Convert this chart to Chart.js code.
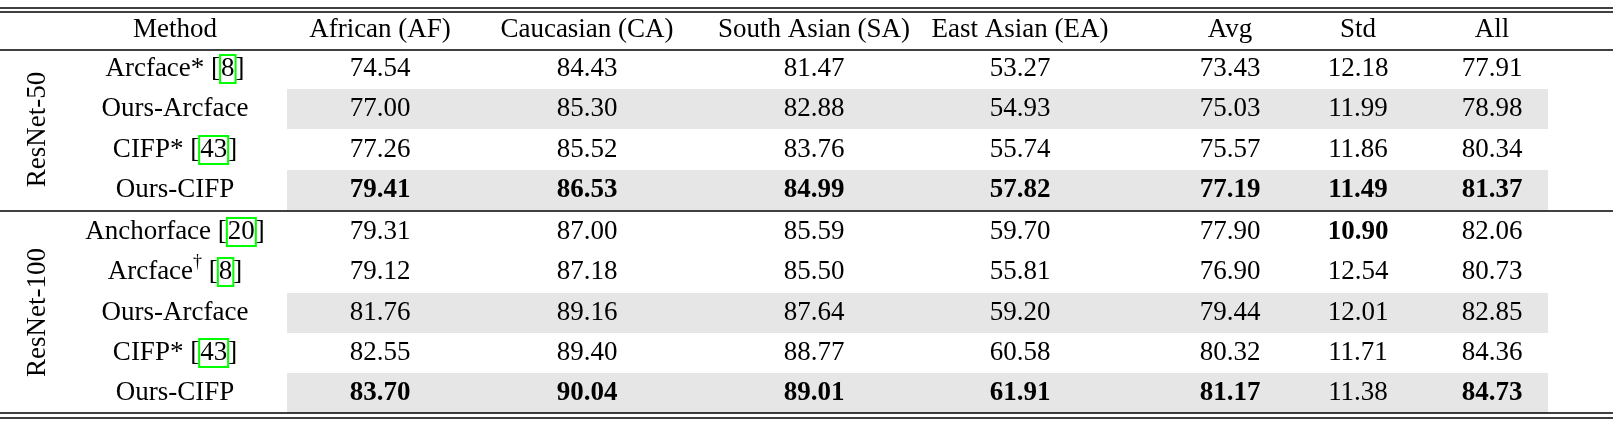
<!DOCTYPE html><html><head><meta charset="utf-8">
<script src="https://cdn.jsdelivr.net/npm/chart.js@4"></script>
<style>body{margin:0;background:#fff}</style></head><body>
<canvas id="c" width="1613" height="433"></canvas>
<script>
const columns=["Method","African (AF)","Caucasian (CA)","South Asian (SA)","East Asian (EA)","Avg","Std","All"];
const backbones=["ResNet-50","ResNet-100"];
const methods=[["Arcface* [",{b:"8"},"]"],["Ours-Arcface"],["CIFP* [",{b:"43"},"]"],["Ours-CIFP"],
 ["Anchorface [",{b:"20"},"]"],["Arcface",{sup:"†"}," [",{b:"8"},"]"],["Ours-Arcface"],["CIFP* [",{b:"43"},"]"],["Ours-CIFP"]];
const values=[
[74.54,84.43,81.47,53.27,73.43,12.18,77.91],
[77.00,85.30,82.88,54.93,75.03,11.99,78.98],
[77.26,85.52,83.76,55.74,75.57,11.86,80.34],
[79.41,86.53,84.99,57.82,77.19,11.49,81.37],
[79.31,87.00,85.59,59.70,77.90,10.90,82.06],
[79.12,87.18,85.50,55.81,76.90,12.54,80.73],
[81.76,89.16,87.64,59.20,79.44,12.01,82.85],
[82.55,89.40,88.77,60.58,80.32,11.71,84.36],
[83.70,90.04,89.01,61.91,81.17,11.38,84.73]];
const bold=[[],[],[],[0,1,2,3,4,5,6],[5],[],[],[],[0,1,2,3,4,6]];
const shaded=[1,3,6,8];
const colX=[175,380,587,814,1020,1230,1358,1492];
const rowY=[69,109,150,190,232,272,313,353,393];
const F='"Liberation Serif", "Times New Roman", serif';
const plugin={id:'tbl',afterDraw(ch){
 const c=ch.ctx,xs=ch.scales.x,ys=ch.scales.y,X=v=>xs.getPixelForValue(v),Y=v=>ys.getPixelForValue(v);
 c.save();
 c.fillStyle='#e6e6e6';
 shaded.forEach(r=>c.fillRect(X(287),Y(rowY[r]-20),X(1548)-X(287),40));
 c.strokeStyle='#000';c.lineWidth=1.3;
 [8,12,50,211,413,418].forEach(y=>{c.beginPath();c.moveTo(X(0),Y(y));c.lineTo(X(1613),Y(y));c.stroke();});
 c.fillStyle='#000';c.textBaseline='middle';
 const nf='27px '+F,bf='bold 27px '+F;
 c.textAlign='center';c.font=nf;
 columns.forEach((t,i)=>c.fillText(t,X(colX[i]),Y(30)));
 methods.forEach((segs,r)=>{
  c.textAlign='left';
  const w=segs.map(s=>{if(typeof s==='string'){c.font=nf;return c.measureText(s).width}
   if(s.sup){c.font='18px '+F;return c.measureText(s.sup).width}c.font=nf;return c.measureText(s.b).width+2});
  let x=X(colX[0])-w.reduce((a,b)=>a+b,0)/2;const y=Y(rowY[r]);
  segs.forEach((s,i)=>{
   if(typeof s==='string'){c.font=nf;c.fillText(s,x,y)}
   else if(s.sup){c.font='18px '+F;c.fillText(s.sup,x,y-10)}
   else{c.font=nf;c.fillText(s.b,x+1,y);c.strokeStyle='#00ff00';c.lineWidth=2;c.strokeRect(x,y-14,w[i],28)}
   x+=w[i];});
  c.textAlign='center';
  values[r].forEach((v,j)=>{c.font=bold[r].includes(j)?bf:nf;c.fillText(v.toFixed(2),X(colX[j+1]),y)});
 });
 c.font=nf;
 [[38,(rowY[0]+rowY[3])/2,0],[38,(rowY[4]+rowY[8])/2,1]].forEach(([x,y,i])=>{
  c.save();c.translate(X(x),Y(y));c.rotate(-Math.PI/2);c.fillText(backbones[i],0,0);c.restore();});
 c.restore();}};
new Chart(document.getElementById('c'),{type:'scatter',data:{datasets:[{data:[]}]},
 options:{responsive:false,animation:false,devicePixelRatio:1,layout:{padding:0},
 plugins:{legend:{display:false},tooltip:{enabled:false}},
 scales:{x:{type:'linear',min:0,max:1613,display:false},y:{type:'linear',min:0,max:433,reverse:true,display:false}}},
 plugins:[plugin]});
</script></body></html>
